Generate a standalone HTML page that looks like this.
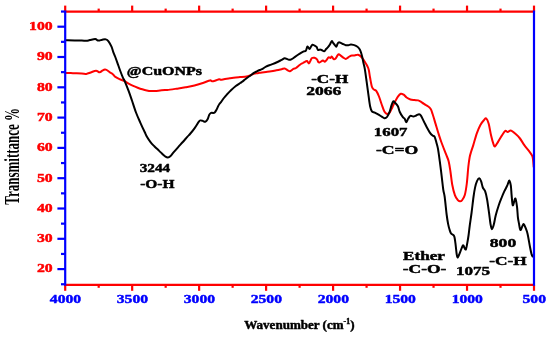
<!DOCTYPE html>
<html><head><meta charset="utf-8"><title>FTIR spectrum</title>
<style>html,body{margin:0;padding:0;background:#fff;width:550px;height:337px;overflow:hidden}svg{display:block}text{font-family:"Liberation Serif", "Times New Roman", serif;font-weight:bold;stroke-width:0.45px;stroke-linejoin:round}</style>
</head><body>
<svg width="550" height="337" viewBox="0 0 550 337">
<line x1="61.00" y1="284.25" x2="65.20" y2="284.25" stroke="#0000ff" stroke-width="2.2"/>
<line x1="57.40" y1="269.10" x2="65.20" y2="269.10" stroke="#0000ff" stroke-width="2.2"/>
<line x1="61.00" y1="253.95" x2="65.20" y2="253.95" stroke="#0000ff" stroke-width="2.2"/>
<line x1="57.40" y1="238.80" x2="65.20" y2="238.80" stroke="#0000ff" stroke-width="2.2"/>
<line x1="61.00" y1="223.65" x2="65.20" y2="223.65" stroke="#0000ff" stroke-width="2.2"/>
<line x1="57.40" y1="208.50" x2="65.20" y2="208.50" stroke="#0000ff" stroke-width="2.2"/>
<line x1="61.00" y1="193.35" x2="65.20" y2="193.35" stroke="#0000ff" stroke-width="2.2"/>
<line x1="57.40" y1="178.20" x2="65.20" y2="178.20" stroke="#0000ff" stroke-width="2.2"/>
<line x1="61.00" y1="163.05" x2="65.20" y2="163.05" stroke="#0000ff" stroke-width="2.2"/>
<line x1="57.40" y1="147.90" x2="65.20" y2="147.90" stroke="#0000ff" stroke-width="2.2"/>
<line x1="61.00" y1="132.75" x2="65.20" y2="132.75" stroke="#0000ff" stroke-width="2.2"/>
<line x1="57.40" y1="117.60" x2="65.20" y2="117.60" stroke="#0000ff" stroke-width="2.2"/>
<line x1="61.00" y1="102.45" x2="65.20" y2="102.45" stroke="#0000ff" stroke-width="2.2"/>
<line x1="57.40" y1="87.30" x2="65.20" y2="87.30" stroke="#0000ff" stroke-width="2.2"/>
<line x1="61.00" y1="72.15" x2="65.20" y2="72.15" stroke="#0000ff" stroke-width="2.2"/>
<line x1="57.40" y1="57.00" x2="65.20" y2="57.00" stroke="#0000ff" stroke-width="2.2"/>
<line x1="61.00" y1="41.85" x2="65.20" y2="41.85" stroke="#0000ff" stroke-width="2.2"/>
<line x1="57.40" y1="26.70" x2="65.20" y2="26.70" stroke="#0000ff" stroke-width="2.2"/>
<line x1="61.00" y1="11.55" x2="65.20" y2="11.55" stroke="#0000ff" stroke-width="2.2"/>
<line x1="534.00" y1="5.60" x2="534.00" y2="11.60" stroke="#ff0000" stroke-width="2.2"/>
<line x1="534.00" y1="284.80" x2="534.00" y2="290.80" stroke="#ff0000" stroke-width="2.2"/>
<line x1="500.51" y1="8.60" x2="500.51" y2="11.60" stroke="#ff0000" stroke-width="2.2"/>
<line x1="500.51" y1="284.80" x2="500.51" y2="287.80" stroke="#ff0000" stroke-width="2.2"/>
<line x1="467.03" y1="5.60" x2="467.03" y2="11.60" stroke="#ff0000" stroke-width="2.2"/>
<line x1="467.03" y1="284.80" x2="467.03" y2="290.80" stroke="#ff0000" stroke-width="2.2"/>
<line x1="433.54" y1="8.60" x2="433.54" y2="11.60" stroke="#ff0000" stroke-width="2.2"/>
<line x1="433.54" y1="284.80" x2="433.54" y2="287.80" stroke="#ff0000" stroke-width="2.2"/>
<line x1="400.06" y1="5.60" x2="400.06" y2="11.60" stroke="#ff0000" stroke-width="2.2"/>
<line x1="400.06" y1="284.80" x2="400.06" y2="290.80" stroke="#ff0000" stroke-width="2.2"/>
<line x1="366.57" y1="8.60" x2="366.57" y2="11.60" stroke="#ff0000" stroke-width="2.2"/>
<line x1="366.57" y1="284.80" x2="366.57" y2="287.80" stroke="#ff0000" stroke-width="2.2"/>
<line x1="333.09" y1="5.60" x2="333.09" y2="11.60" stroke="#ff0000" stroke-width="2.2"/>
<line x1="333.09" y1="284.80" x2="333.09" y2="290.80" stroke="#ff0000" stroke-width="2.2"/>
<line x1="299.60" y1="8.60" x2="299.60" y2="11.60" stroke="#ff0000" stroke-width="2.2"/>
<line x1="299.60" y1="284.80" x2="299.60" y2="287.80" stroke="#ff0000" stroke-width="2.2"/>
<line x1="266.11" y1="5.60" x2="266.11" y2="11.60" stroke="#ff0000" stroke-width="2.2"/>
<line x1="266.11" y1="284.80" x2="266.11" y2="290.80" stroke="#ff0000" stroke-width="2.2"/>
<line x1="232.63" y1="8.60" x2="232.63" y2="11.60" stroke="#ff0000" stroke-width="2.2"/>
<line x1="232.63" y1="284.80" x2="232.63" y2="287.80" stroke="#ff0000" stroke-width="2.2"/>
<line x1="199.14" y1="5.60" x2="199.14" y2="11.60" stroke="#ff0000" stroke-width="2.2"/>
<line x1="199.14" y1="284.80" x2="199.14" y2="290.80" stroke="#ff0000" stroke-width="2.2"/>
<line x1="165.66" y1="8.60" x2="165.66" y2="11.60" stroke="#ff0000" stroke-width="2.2"/>
<line x1="165.66" y1="284.80" x2="165.66" y2="287.80" stroke="#ff0000" stroke-width="2.2"/>
<line x1="132.17" y1="5.60" x2="132.17" y2="11.60" stroke="#ff0000" stroke-width="2.2"/>
<line x1="132.17" y1="284.80" x2="132.17" y2="290.80" stroke="#ff0000" stroke-width="2.2"/>
<line x1="98.69" y1="8.60" x2="98.69" y2="11.60" stroke="#ff0000" stroke-width="2.2"/>
<line x1="98.69" y1="284.80" x2="98.69" y2="287.80" stroke="#ff0000" stroke-width="2.2"/>
<line x1="65.20" y1="5.60" x2="65.20" y2="11.60" stroke="#ff0000" stroke-width="2.2"/>
<line x1="65.20" y1="284.80" x2="65.20" y2="290.80" stroke="#ff0000" stroke-width="2.2"/>
<path d="M65.50,72.90 C66.73,72.95 70.18,73.08 72.90,73.20 C75.62,73.32 79.57,73.48 81.80,73.60 C84.03,73.72 84.82,74.08 86.30,73.90 C87.78,73.72 89.08,73.03 90.70,72.50 C92.32,71.97 94.52,70.73 96.00,70.70 C97.48,70.67 98.55,72.30 99.60,72.30 C100.65,72.30 101.42,71.17 102.30,70.70 C103.18,70.23 104.17,69.62 104.90,69.50 C105.63,69.38 105.80,69.48 106.70,70.00 C107.60,70.52 109.42,72.02 110.30,72.60 C111.18,73.18 111.42,73.05 112.00,73.50 C112.58,73.95 113.30,74.78 113.80,75.30 C114.30,75.82 114.05,75.97 115.00,76.60 C115.95,77.23 117.98,78.38 119.50,79.10 C121.02,79.82 122.58,80.15 124.10,80.90 C125.62,81.65 127.08,82.77 128.60,83.60 C130.12,84.43 131.68,85.22 133.20,85.90 C134.72,86.58 136.18,87.13 137.70,87.70 C139.22,88.27 140.78,88.83 142.30,89.30 C143.82,89.77 145.35,90.20 146.80,90.50 C148.25,90.80 149.63,91.02 151.00,91.10 C152.37,91.18 153.50,91.10 155.00,91.00 C156.50,90.90 158.33,90.67 160.00,90.50 C161.67,90.33 163.78,90.08 165.00,90.00 C166.22,89.92 165.40,90.22 167.30,90.00 C169.20,89.78 173.37,89.15 176.40,88.70 C179.43,88.25 182.48,87.83 185.50,87.30 C188.52,86.77 191.48,86.27 194.50,85.50 C197.52,84.73 201.02,83.55 203.60,82.70 C206.18,81.85 208.60,80.63 210.00,80.40 C211.40,80.17 211.07,81.28 212.00,81.30 C212.93,81.32 214.42,80.83 215.60,80.50 C216.78,80.17 218.22,79.43 219.10,79.30 C219.98,79.17 220.10,79.70 220.90,79.70 C221.70,79.70 222.42,79.53 223.90,79.30 C225.38,79.07 227.82,78.62 229.80,78.30 C231.78,77.98 234.10,77.60 235.80,77.40 C237.50,77.20 238.47,77.20 240.00,77.10 C241.53,77.00 243.68,76.95 245.00,76.80 C246.32,76.65 246.92,76.50 247.90,76.20 C248.88,75.90 249.90,75.40 250.90,75.00 C251.90,74.60 252.92,74.10 253.90,73.80 C254.88,73.50 255.82,73.37 256.80,73.20 C257.78,73.03 258.93,72.92 259.80,72.80 C260.67,72.68 260.97,72.63 262.00,72.50 C263.03,72.37 264.47,72.20 266.00,72.00 C267.53,71.80 269.47,71.58 271.20,71.30 C272.93,71.02 274.67,70.65 276.40,70.30 C278.13,69.95 280.22,69.50 281.60,69.20 C282.98,68.90 283.67,68.32 284.70,68.50 C285.73,68.68 286.92,69.85 287.80,70.30 C288.68,70.75 289.07,71.43 290.00,71.20 C290.93,70.97 292.40,69.43 293.40,68.90 C294.40,68.37 294.90,68.70 296.00,68.00 C297.10,67.30 298.83,65.53 300.00,64.70 C301.17,63.87 302.17,63.48 303.00,63.00 C303.83,62.52 304.33,62.13 305.00,61.80 C305.67,61.47 306.33,60.73 307.00,61.00 C307.67,61.27 308.37,63.57 309.00,63.40 C309.63,63.23 310.30,60.90 310.80,60.00 C311.30,59.10 311.38,58.37 312.00,58.00 C312.62,57.63 313.67,57.57 314.50,57.80 C315.33,58.03 316.33,58.65 317.00,59.40 C317.67,60.15 318.00,61.83 318.50,62.30 C319.00,62.77 319.27,62.52 320.00,62.20 C320.73,61.88 322.10,60.48 322.90,60.40 C323.70,60.32 324.17,61.80 324.80,61.70 C325.43,61.60 326.07,60.53 326.70,59.80 C327.33,59.07 327.97,57.62 328.60,57.30 C329.23,56.98 329.97,58.02 330.50,57.90 C331.03,57.78 331.27,56.38 331.80,56.60 C332.33,56.82 333.07,58.88 333.70,59.20 C334.33,59.52 334.97,59.13 335.60,58.50 C336.23,57.87 336.97,56.10 337.50,55.40 C338.03,54.70 338.27,54.27 338.80,54.30 C339.33,54.33 339.95,55.05 340.70,55.60 C341.45,56.15 342.45,57.05 343.30,57.60 C344.15,58.15 344.97,58.95 345.80,58.90 C346.63,58.85 347.45,57.83 348.30,57.30 C349.15,56.77 350.05,55.98 350.90,55.70 C351.75,55.42 352.55,55.70 353.40,55.60 C354.25,55.50 355.25,55.25 356.00,55.10 C356.75,54.95 357.27,54.62 357.90,54.70 C358.53,54.78 359.17,55.17 359.80,55.60 C360.43,56.03 361.07,56.60 361.70,57.30 C362.33,58.00 362.97,58.85 363.60,59.80 C364.23,60.75 364.87,61.93 365.50,63.00 C366.13,64.07 366.85,65.03 367.40,66.20 C367.95,67.37 368.35,68.07 368.80,70.00 C369.25,71.93 369.58,75.02 370.10,77.80 C370.62,80.58 371.30,84.77 371.90,86.70 C372.50,88.63 372.95,88.67 373.70,89.40 C374.45,90.13 375.52,89.92 376.40,91.10 C377.28,92.28 378.12,94.27 379.00,96.50 C379.88,98.73 380.80,101.98 381.70,104.50 C382.60,107.02 383.52,110.03 384.40,111.60 C385.28,113.17 386.12,113.75 387.00,113.90 C387.88,114.05 388.80,113.62 389.70,112.50 C390.60,111.38 391.52,108.98 392.40,107.20 C393.28,105.42 394.08,103.57 395.00,101.80 C395.92,100.03 396.93,97.95 397.90,96.60 C398.87,95.25 399.83,94.02 400.80,93.70 C401.77,93.38 402.73,94.07 403.70,94.70 C404.67,95.33 405.48,96.70 406.60,97.50 C407.72,98.30 409.12,99.07 410.40,99.50 C411.68,99.93 413.00,99.95 414.30,100.10 C415.60,100.25 417.07,100.12 418.20,100.40 C419.33,100.68 420.13,101.22 421.10,101.80 C422.07,102.38 422.88,103.17 424.00,103.90 C425.12,104.63 426.68,105.33 427.80,106.20 C428.92,107.07 429.90,107.80 430.70,109.10 C431.50,110.40 431.80,111.58 432.60,114.00 C433.40,116.42 434.53,120.38 435.50,123.60 C436.47,126.82 437.43,130.23 438.40,133.30 C439.37,136.37 440.03,138.52 441.30,142.00 C442.57,145.48 444.77,150.97 446.00,154.20 C447.23,157.43 447.95,158.43 448.70,161.40 C449.45,164.37 449.92,168.15 450.50,172.00 C451.08,175.85 451.47,180.63 452.20,184.50 C452.93,188.37 454.00,192.65 454.90,195.20 C455.80,197.75 456.78,198.78 457.60,199.80 C458.42,200.82 459.08,201.18 459.80,201.30 C460.52,201.42 461.07,201.55 461.90,200.50 C462.73,199.45 463.98,197.83 464.80,195.00 C465.62,192.17 466.22,188.17 466.80,183.50 C467.38,178.83 467.82,171.42 468.30,167.00 C468.78,162.58 469.22,159.58 469.70,157.00 C470.18,154.42 470.60,153.48 471.20,151.50 C471.80,149.52 472.37,148.13 473.30,145.10 C474.23,142.07 475.62,136.67 476.80,133.30 C477.98,129.93 479.22,127.08 480.40,124.90 C481.58,122.72 482.92,121.27 483.90,120.20 C484.88,119.13 485.50,117.90 486.30,118.50 C487.10,119.10 487.90,120.95 488.70,123.80 C489.50,126.65 490.32,132.25 491.10,135.60 C491.88,138.95 492.73,142.12 493.40,143.90 C494.07,145.68 494.30,146.68 495.10,146.30 C495.90,145.92 497.08,143.38 498.20,141.60 C499.32,139.82 500.62,137.38 501.80,135.60 C502.98,133.82 504.32,131.48 505.30,130.90 C506.28,130.32 506.78,132.18 507.70,132.10 C508.62,132.02 509.62,130.20 510.80,130.40 C511.98,130.60 513.33,132.03 514.80,133.30 C516.27,134.57 518.02,136.03 519.60,138.00 C521.18,139.97 522.72,142.92 524.30,145.10 C525.88,147.28 527.78,149.32 529.10,151.10 C530.42,152.88 531.53,154.32 532.20,155.80 C532.87,157.28 532.85,158.13 533.10,160.00 C533.35,161.87 533.60,165.83 533.70,167.00" fill="none" stroke="#ff0000" stroke-width="2" stroke-linejoin="round" stroke-linecap="round"/>
<path d="M65.50,40.30 C67.03,40.33 71.98,40.47 74.70,40.50 C77.42,40.53 79.87,40.45 81.80,40.50 C83.73,40.55 84.97,40.87 86.30,40.80 C87.63,40.73 88.32,40.40 89.80,40.10 C91.28,39.80 93.87,38.93 95.20,39.00 C96.53,39.07 97.07,40.27 97.80,40.50 C98.53,40.73 98.85,40.53 99.60,40.40 C100.35,40.27 101.27,39.87 102.30,39.70 C103.33,39.53 104.77,39.13 105.80,39.40 C106.83,39.67 107.55,40.08 108.50,41.30 C109.45,42.52 110.70,44.90 111.50,46.70 C112.30,48.50 112.70,50.47 113.30,52.10 C113.90,53.73 114.42,54.72 115.10,56.50 C115.78,58.28 116.57,60.47 117.40,62.80 C118.23,65.13 119.20,68.08 120.10,70.50 C121.00,72.92 121.98,75.42 122.80,77.30 C123.62,79.18 124.03,79.53 125.00,81.80 C125.97,84.07 127.47,87.87 128.60,90.90 C129.73,93.93 130.57,96.40 131.80,100.00 C133.03,103.60 134.57,108.70 136.00,112.50 C137.43,116.30 138.93,119.50 140.40,122.80 C141.87,126.10 143.68,129.93 144.80,132.30 C145.92,134.67 146.12,135.32 147.10,137.00 C148.08,138.68 149.50,140.85 150.70,142.40 C151.90,143.95 153.12,145.10 154.30,146.30 C155.48,147.50 156.72,148.58 157.80,149.60 C158.88,150.62 159.90,151.53 160.80,152.40 C161.70,153.27 162.42,154.08 163.20,154.80 C163.98,155.52 164.72,156.25 165.50,156.70 C166.28,157.15 167.10,157.57 167.90,157.50 C168.70,157.43 169.40,157.10 170.30,156.30 C171.20,155.50 172.02,154.20 173.30,152.70 C174.58,151.20 176.42,149.08 178.00,147.30 C179.58,145.52 181.22,143.78 182.80,142.00 C184.38,140.22 186.30,137.93 187.50,136.60 C188.70,135.27 188.83,135.38 190.00,134.00 C191.17,132.62 193.05,130.32 194.50,128.30 C195.95,126.28 197.72,123.22 198.70,121.90 C199.68,120.58 199.72,120.57 200.40,120.40 C201.08,120.23 202.00,120.67 202.80,120.90 C203.60,121.13 204.40,122.07 205.20,121.80 C206.00,121.53 206.92,120.50 207.60,119.30 C208.28,118.10 208.72,115.68 209.30,114.60 C209.88,113.52 210.50,113.08 211.10,112.80 C211.70,112.52 212.30,112.95 212.90,112.90 C213.50,112.85 214.10,113.02 214.70,112.50 C215.30,111.98 215.90,110.90 216.50,109.80 C217.10,108.70 217.82,106.87 218.30,105.90 C218.78,104.93 218.95,104.62 219.40,104.00 C219.85,103.38 220.25,103.20 221.00,102.20 C221.75,101.20 222.83,99.37 223.90,98.00 C224.97,96.63 226.22,95.30 227.40,94.00 C228.58,92.70 229.60,91.53 231.00,90.20 C232.40,88.87 234.25,87.20 235.80,86.00 C237.35,84.80 239.27,83.70 240.30,83.00 C241.33,82.30 241.22,82.38 242.00,81.80 C242.78,81.22 244.02,80.25 245.00,79.50 C245.98,78.75 246.92,78.02 247.90,77.30 C248.88,76.58 249.90,75.93 250.90,75.20 C251.90,74.47 252.92,73.53 253.90,72.90 C254.88,72.27 255.82,71.88 256.80,71.40 C257.78,70.92 258.93,70.37 259.80,70.00 C260.67,69.63 260.97,69.77 262.00,69.20 C263.03,68.63 264.47,67.37 266.00,66.60 C267.53,65.83 269.47,65.28 271.20,64.60 C272.93,63.92 274.67,63.28 276.40,62.50 C278.13,61.72 280.22,60.60 281.60,59.90 C282.98,59.20 283.67,58.38 284.70,58.30 C285.73,58.22 286.87,59.15 287.80,59.40 C288.73,59.65 289.35,60.03 290.30,59.80 C291.25,59.57 292.15,58.88 293.50,58.00 C294.85,57.12 297.15,55.37 298.40,54.50 C299.65,53.63 300.12,53.32 301.00,52.80 C301.88,52.28 302.88,51.77 303.70,51.40 C304.52,51.03 305.27,51.42 305.90,50.60 C306.53,49.78 306.90,46.75 307.50,46.50 C308.10,46.25 308.95,49.02 309.50,49.10 C310.05,49.18 310.32,47.73 310.80,47.00 C311.28,46.27 311.77,44.93 312.40,44.70 C313.03,44.47 313.90,45.23 314.60,45.60 C315.30,45.97 316.03,46.17 316.60,46.90 C317.17,47.63 317.43,49.55 318.00,50.00 C318.57,50.45 319.40,49.60 320.00,49.60 C320.60,49.60 320.90,49.72 321.60,50.00 C322.30,50.28 323.45,51.47 324.20,51.30 C324.95,51.13 325.47,49.70 326.10,49.00 C326.73,48.30 327.37,47.85 328.00,47.10 C328.63,46.35 329.27,45.50 329.90,44.50 C330.53,43.50 331.27,41.37 331.80,41.10 C332.33,40.83 332.67,42.33 333.10,42.90 C333.53,43.47 333.87,43.87 334.40,44.50 C334.93,45.13 335.78,46.80 336.30,46.70 C336.82,46.60 337.08,44.62 337.50,43.90 C337.92,43.18 338.27,42.57 338.80,42.40 C339.33,42.23 339.95,42.60 340.70,42.90 C341.45,43.20 342.45,43.82 343.30,44.20 C344.15,44.58 344.97,45.03 345.80,45.20 C346.63,45.37 347.45,45.32 348.30,45.20 C349.15,45.08 350.05,44.55 350.90,44.50 C351.75,44.45 352.55,44.68 353.40,44.90 C354.25,45.12 355.25,45.43 356.00,45.80 C356.75,46.17 357.27,46.47 357.90,47.10 C358.53,47.73 359.27,48.65 359.80,49.60 C360.33,50.55 360.68,51.52 361.10,52.80 C361.52,54.08 361.88,55.50 362.30,57.30 C362.72,59.10 363.18,61.67 363.60,63.60 C364.02,65.53 364.30,65.93 364.80,68.90 C365.30,71.87 366.02,77.25 366.60,81.40 C367.18,85.55 367.72,89.65 368.30,93.80 C368.88,97.95 369.50,103.38 370.10,106.30 C370.70,109.22 371.15,110.27 371.90,111.30 C372.65,112.33 373.57,112.00 374.60,112.50 C375.63,113.00 376.92,113.62 378.10,114.30 C379.28,114.98 380.65,115.95 381.70,116.60 C382.75,117.25 383.52,118.13 384.40,118.20 C385.28,118.27 386.12,118.10 387.00,117.00 C387.88,115.90 388.95,113.53 389.70,111.60 C390.45,109.67 390.90,107.12 391.50,105.40 C392.10,103.68 392.72,101.75 393.30,101.30 C393.88,100.85 394.23,101.88 395.00,102.70 C395.77,103.52 397.10,104.65 397.90,106.20 C398.70,107.75 399.00,110.22 399.80,112.00 C400.60,113.78 401.88,115.77 402.70,116.90 C403.52,118.03 404.12,117.90 404.70,118.80 C405.28,119.70 405.63,122.30 406.20,122.30 C406.77,122.30 407.40,119.87 408.10,118.80 C408.80,117.73 409.53,116.28 410.40,115.90 C411.27,115.52 412.33,116.57 413.30,116.50 C414.27,116.43 415.23,115.87 416.20,115.50 C417.17,115.13 418.28,114.23 419.10,114.30 C419.92,114.37 420.28,114.67 421.10,115.90 C421.92,117.13 423.03,119.77 424.00,121.70 C424.97,123.63 425.95,125.73 426.90,127.50 C427.85,129.27 428.75,130.95 429.70,132.30 C430.65,133.65 431.78,134.87 432.60,135.60 C433.42,136.33 433.95,135.48 434.60,136.70 C435.25,137.92 435.93,140.87 436.50,142.90 C437.07,144.93 437.45,145.82 438.00,148.90 C438.55,151.98 439.20,156.95 439.80,161.40 C440.40,165.85 441.02,170.87 441.60,175.60 C442.18,180.33 442.78,186.23 443.30,189.80 C443.82,193.37 444.13,192.80 444.70,197.00 C445.27,201.20 446.13,210.52 446.70,215.00 C447.27,219.48 447.62,221.43 448.10,223.90 C448.58,226.37 449.10,228.20 449.60,229.80 C450.10,231.40 450.48,232.63 451.10,233.50 C451.72,234.37 452.73,234.38 453.30,235.00 C453.87,235.62 454.12,235.60 454.50,237.20 C454.88,238.80 455.25,241.88 455.60,244.60 C455.95,247.32 456.28,251.35 456.60,253.50 C456.92,255.65 457.10,257.25 457.50,257.50 C457.90,257.75 458.47,256.15 459.00,255.00 C459.53,253.85 460.03,252.20 460.70,250.60 C461.37,249.00 462.38,245.90 463.00,245.40 C463.62,244.90 463.92,246.93 464.40,247.60 C464.88,248.27 465.40,250.27 465.90,249.40 C466.40,248.53 466.95,244.80 467.40,242.40 C467.85,240.00 468.22,237.73 468.60,235.00 C468.98,232.27 469.20,229.75 469.70,226.00 C470.20,222.25 470.97,217.33 471.60,212.50 C472.23,207.67 472.92,201.18 473.50,197.00 C474.08,192.82 474.52,190.03 475.10,187.40 C475.68,184.77 476.30,182.72 477.00,181.20 C477.70,179.68 478.60,178.23 479.30,178.30 C480.00,178.37 480.62,180.07 481.20,181.60 C481.78,183.13 482.15,185.90 482.80,187.50 C483.45,189.10 484.40,189.28 485.10,191.20 C485.80,193.12 486.35,195.45 487.00,199.00 C487.65,202.55 488.42,208.33 489.00,212.50 C489.58,216.67 490.00,221.22 490.50,224.00 C491.00,226.78 491.45,229.10 492.00,229.20 C492.55,229.30 493.18,226.90 493.80,224.60 C494.42,222.30 494.90,218.55 495.70,215.40 C496.50,212.25 497.63,208.60 498.60,205.70 C499.57,202.80 500.53,200.42 501.50,198.00 C502.47,195.58 503.43,193.30 504.40,191.20 C505.37,189.10 506.50,187.17 507.30,185.40 C508.10,183.63 508.62,180.60 509.20,180.60 C509.78,180.60 510.40,182.98 510.80,185.40 C511.20,187.82 511.28,191.80 511.60,195.10 C511.92,198.40 512.28,204.07 512.70,205.20 C513.12,206.33 513.65,203.00 514.10,201.90 C514.55,200.80 514.92,197.80 515.40,198.60 C515.88,199.40 516.58,203.58 517.00,206.70 C517.42,209.82 517.58,214.57 517.90,217.30 C518.22,220.03 518.48,220.98 518.90,223.10 C519.32,225.22 519.82,229.52 520.40,230.00 C520.98,230.48 521.85,226.98 522.40,226.00 C522.95,225.02 523.17,223.78 523.70,224.10 C524.23,224.42 524.95,226.25 525.60,227.90 C526.25,229.55 526.87,230.82 527.60,234.00 C528.33,237.18 529.35,243.67 530.00,247.00 C530.65,250.33 531.08,252.42 531.50,254.00 C531.92,255.58 532.17,256.33 532.50,256.50 C532.83,256.67 533.33,255.25 533.50,255.00" fill="none" stroke="#000000" stroke-width="2" stroke-linejoin="round" stroke-linecap="round"/>
<line x1="64.20" y1="11.60" x2="535.00" y2="11.60" stroke="#ff0000" stroke-width="2.2"/>
<line x1="64.20" y1="284.80" x2="535.00" y2="284.80" stroke="#ff0000" stroke-width="2.2"/>
<line x1="65.20" y1="10.60" x2="65.20" y2="285.80" stroke="#0000ff" stroke-width="2.2"/>
<line x1="534.00" y1="10.60" x2="534.00" y2="285.80" stroke="#0000ff" stroke-width="2.2"/>
<text transform="translate(52.75,272.48) scale(1.2717,1.0000)" font-size="12.40" fill="#ff0000" stroke="#ff0000" text-anchor="end">20</text>
<text transform="translate(52.75,242.18) scale(1.2717,1.0000)" font-size="12.40" fill="#ff0000" stroke="#ff0000" text-anchor="end">30</text>
<text transform="translate(52.75,211.88) scale(1.2717,1.0000)" font-size="12.40" fill="#ff0000" stroke="#ff0000" text-anchor="end">40</text>
<text transform="translate(52.75,181.58) scale(1.2717,1.0000)" font-size="12.40" fill="#ff0000" stroke="#ff0000" text-anchor="end">50</text>
<text transform="translate(52.75,151.28) scale(1.2717,1.0000)" font-size="12.40" fill="#ff0000" stroke="#ff0000" text-anchor="end">60</text>
<text transform="translate(52.75,120.98) scale(1.2717,1.0000)" font-size="12.40" fill="#ff0000" stroke="#ff0000" text-anchor="end">70</text>
<text transform="translate(52.75,90.68) scale(1.2717,1.0000)" font-size="12.40" fill="#ff0000" stroke="#ff0000" text-anchor="end">80</text>
<text transform="translate(52.75,60.38) scale(1.2717,1.0000)" font-size="12.40" fill="#ff0000" stroke="#ff0000" text-anchor="end">90</text>
<text transform="translate(52.75,30.08) scale(1.2717,1.0000)" font-size="12.40" fill="#ff0000" stroke="#ff0000" text-anchor="end">100</text>
<text transform="translate(534.25,302.92) scale(1.2594,1.0000)" font-size="12.40" fill="#0000ff" stroke="#0000ff" text-anchor="middle">500</text>
<text transform="translate(467.28,302.92) scale(1.2594,1.0000)" font-size="12.40" fill="#0000ff" stroke="#0000ff" text-anchor="middle">1000</text>
<text transform="translate(400.31,302.92) scale(1.2594,1.0000)" font-size="12.40" fill="#0000ff" stroke="#0000ff" text-anchor="middle">1500</text>
<text transform="translate(333.34,302.92) scale(1.2594,1.0000)" font-size="12.40" fill="#0000ff" stroke="#0000ff" text-anchor="middle">2000</text>
<text transform="translate(266.36,302.92) scale(1.2594,1.0000)" font-size="12.40" fill="#0000ff" stroke="#0000ff" text-anchor="middle">2500</text>
<text transform="translate(199.39,302.92) scale(1.2594,1.0000)" font-size="12.40" fill="#0000ff" stroke="#0000ff" text-anchor="middle">3000</text>
<text transform="translate(132.42,302.92) scale(1.2594,1.0000)" font-size="12.40" fill="#0000ff" stroke="#0000ff" text-anchor="middle">3500</text>
<text transform="translate(65.45,302.92) scale(1.2594,1.0000)" font-size="12.40" fill="#0000ff" stroke="#0000ff" text-anchor="middle">4000</text>
<text transform="translate(139.72,172.48) scale(1.2214,1.0000)" font-size="12.50" fill="#000000" stroke="#000000" text-anchor="start">3244</text>
<text transform="translate(140.15,188.32) scale(1.2382,1.0000)" font-size="12.50" fill="#000000" stroke="#000000" text-anchor="start">-O-H</text>
<text transform="translate(311.17,83.12) scale(1.3702,1.0000)" font-size="12.50" fill="#000000" stroke="#000000" text-anchor="start">-C-H</text>
<text transform="translate(306.18,95.48) scale(1.4041,1.0000)" font-size="12.50" fill="#000000" stroke="#000000" text-anchor="start">2066</text>
<text transform="translate(373.85,135.57) scale(1.3441,1.0000)" font-size="12.50" fill="#000000" stroke="#000000" text-anchor="start">1607</text>
<text transform="translate(375.90,153.57) scale(1.4136,1.0000)" font-size="12.50" fill="#000000" stroke="#000000" text-anchor="start">-C=O</text>
<text transform="translate(403.00,260.45) scale(1.3754,1.0000)" font-size="12.50" fill="#000000" stroke="#000000" text-anchor="start">Ether</text>
<text transform="translate(402.75,272.62) scale(1.4000,1.0000)" font-size="12.50" fill="#000000" stroke="#000000" text-anchor="start">-C-O-</text>
<text transform="translate(456.02,275.48) scale(1.3666,1.0000)" font-size="12.50" fill="#000000" stroke="#000000" text-anchor="start">1075</text>
<text transform="translate(489.78,247.48) scale(1.4109,1.0000)" font-size="12.50" fill="#000000" stroke="#000000" text-anchor="start">800</text>
<text transform="translate(489.32,264.88) scale(1.3832,1.0000)" font-size="12.50" fill="#000000" stroke="#000000" text-anchor="start">-C-H</text>
<text transform="translate(126.80,75.43) scale(1.3331,1.0000)" font-size="12.00" fill="#000000" stroke="#000000" text-anchor="start">@CuONPs</text>
<text transform="translate(244.27,328.80) scale(1.0437,1.0000)" font-size="12.50" fill="#000000" stroke="#000000" text-anchor="start">Wavenumber (cm<tspan font-size="7.5" dy="-4.5">-1</tspan><tspan dy="4.5">)</tspan></text>
<text transform="translate(19.25,204.78) rotate(-90) scale(1.0835,1.7273)" font-size="12.00" style="stroke-width:0px" fill="#000000" stroke="#000000" text-anchor="start">Transmittance %</text>
</svg>
</body></html>
